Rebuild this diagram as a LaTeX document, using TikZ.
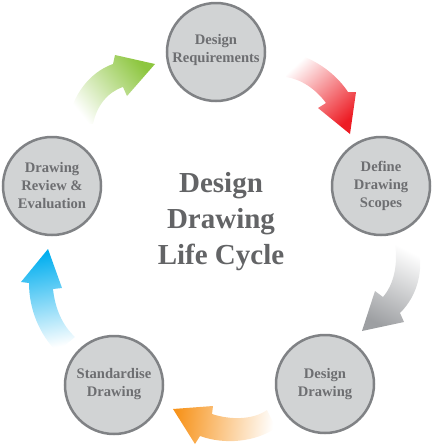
\documentclass[tikz,border=0pt]{standalone}
\usepackage{fontspec}
\setmainfont{Liberation Serif}
\definecolor{cfill}{HTML}{D1D3D4}
\definecolor{cline}{HTML}{808285}
\definecolor{ctext}{HTML}{6D6E71}
\definecolor{ctitle}{HTML}{636466}
\definecolor{agreen}{HTML}{8DC63F}
\definecolor{ared}{HTML}{ED1C24}
\definecolor{agray}{HTML}{9D9FA2}
\definecolor{aorange}{HTML}{F7941D}
\definecolor{ablue}{HTML}{00AEEF}
\begin{document}
\begin{tikzpicture}[x=1pt,y=-1pt,
  stage/.style={circle, fill=cfill, draw=cline, line width=2.5pt, minimum size=98pt, inner sep=0pt},
  stagetext/.style={align=center, text=ctext, font=\fontsize{14.6}{18}\selectfont\bfseries},
  centertitle/.style={align=center, text=ctitle, font=\fontsize{29}{36}\selectfont\bfseries},
  flow/.style 2 args={draw=none, bottom color=white, top color=#1, shading angle=#2}]
\useasboundingbox (0,0) rectangle (433,445);

% curved gradient arrows
\path[flow={agreen}{-51}] (68,123) .. controls (72,95) and (90,72) .. (113,64) -- (115,55) -- (155,64) -- (127,96) -- (123,87) .. controls (108,92) and (97,105) .. (93,124) -- cycle;
\path[flow={ared}{-137}] (286,52) .. controls (310,55) and (335,72) .. (348,92) -- (356,92) -- (350,134) -- (318,108) -- (326,103) .. controls (315,88) and (300,79) .. (286,77) -- cycle;
\path[flow={agray}{153}] (418,243) .. controls (424,270) and (418,295) .. (400,313) -- (404,322) -- (362,331) -- (375,291) -- (383,297) .. controls (394,284) and (398,265) .. (395,243) -- cycle;
\path[flow={aorange}{84}] (267,410) .. controls (253,420) and (230,420) .. (212,414) -- (213,406) -- (173,409) -- (195,444) -- (200,436) .. controls (225,445) and (255,442) .. (276,428) -- cycle;
\path[flow={ablue}{11}] (75,337) .. controls (62,325) and (55,308) .. (53,289) -- (62,288) -- (48,249) -- (21,282) -- (29,283) .. controls (29,310) and (40,335) .. (57,352) -- cycle;

% stages
\node[stage] (req) at (216,52) {};
\node[stage] (scope) at (381,186) {};
\node[stage] (dd) at (325,384) {};
\node[stage] (std) at (114,385) {};
\node[stage] (rev) at (52,186) {};

\node[stagetext, yshift=2pt] (reqt) at (req.center) {Design\\Requirements};
\node[stagetext] (scopet) at (scope.center) {Define\\Drawing\\Scopes};
\node[stagetext] (ddt) at (dd.center) {Design\\Drawing};
\node[stagetext, yshift=1pt] (stdt) at (std.center) {Standardise\\Drawing};
\node[stagetext] (revt) at (rev.center) {Drawing\\Review \&\\Evaluation};

\node[centertitle] (title) at (221,222) {Design\\Drawing\\Life Cycle};
\end{tikzpicture}
\end{document}
